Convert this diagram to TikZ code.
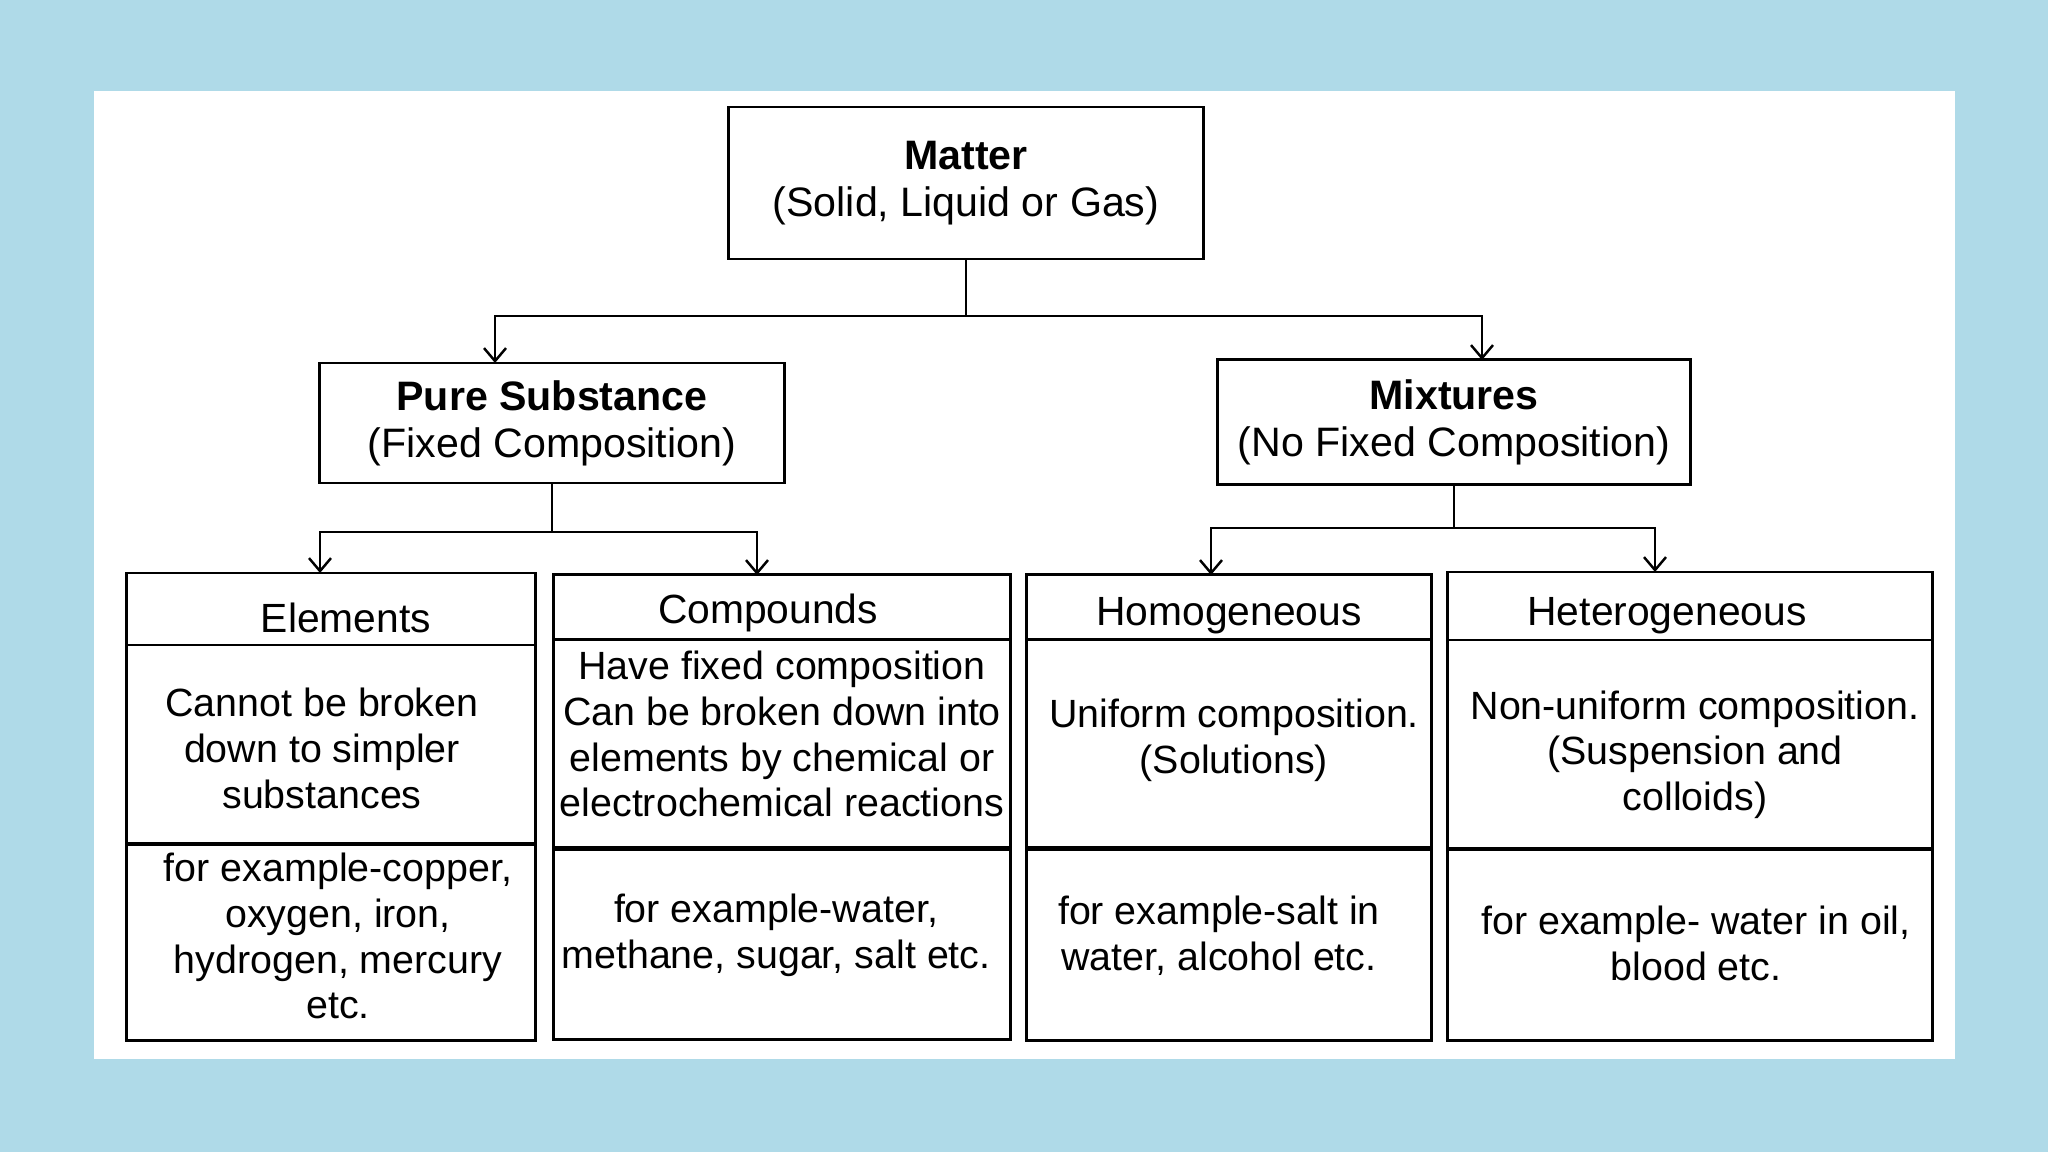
\documentclass[tikz,border=0pt]{standalone}
\usepackage{fontspec}
\setmainfont{Liberation Sans}
\usetikzlibrary{arrows.meta,positioning}
\definecolor{bgBlue}{RGB}{175,218,232}

\begin{document}
\begin{tikzpicture}[x=0.01cm,y=-0.01cm,>={Straight Barb[length=1.3mm,width=2.2mm]},
  box/.style={draw,line width=0.8pt,inner sep=0pt,outer sep=0pt,align=center},
  titlefont/.style={font=\fontsize{11.7}{13.3}\selectfont},
  headfont/.style={font=\fontsize{11.6}{13}\selectfont,align=center},
  bodyfont/.style={font=\fontsize{11.2}{13}\selectfont,align=center},
  link/.style={line width=0.7pt}]
% background and white sheet
\fill[bgBlue] (0,0) rectangle (2048,1152);
\useasboundingbox (0,0) rectangle (2048,1152);
\fill[white] (94,91) rectangle (1955,1059);
% top levels
\node[box,titlefont,minimum width=4.74cm,minimum height=1.52cm] (matter) at (966,183) {\textbf{Matter}\\(Solid, Liquid or Gas)};
\node[box,titlefont,minimum width=4.65cm,minimum height=1.2cm] (pure) at (552,423) {\textbf{Pure Substance}\\(Fixed Composition)};
\node[box,titlefont,minimum width=4.72cm,minimum height=1.25cm] (mix) at (1454,422) {\textbf{Mixtures}\\(No Fixed Composition)};
% elements
\node[box,minimum width=4.08cm,minimum height=0.72cm] (elemH) at (331,609) {};
\node[box,minimum width=4.08cm,minimum height=1.99cm,below=0pt of elemH] (elemD) {};
\node[box,minimum width=4.08cm,minimum height=1.96cm,below=0pt of elemD] (elemE) {};
\node[headfont] (elemHt) at ([shift={(15,9)}]elemH.center) {Elements};
\node[bodyfont] (elemDt) at ([shift={(-9,4)}]elemD.center) {Cannot be broken\\down to simpler\\substances};
\node[bodyfont] (elemEt) at ([shift={(7,-6)}]elemE.center) {for example-copper,\\oxygen, iron,\\hydrogen, mercury\\etc.};
% compounds
\node[box,minimum width=4.56cm,minimum height=0.65cm] (compH) at (782,607) {};
\node[box,minimum width=4.56cm,minimum height=2.09cm,below=0pt of compH] (compD) {};
\node[box,minimum width=4.56cm,minimum height=1.91cm,below=0pt of compD] (compE) {};
\node[headfont] (compHt) at ([shift={(-14,6)}]compH.center) {Compounds};
\node[bodyfont] (compDt) at ([shift={(0,-10)}]compD.center) {Have fixed composition\\Can be broken down into\\elements by chemical or\\electrochemical reactions};
\node[bodyfont] (compEt) at ([shift={(-6,-9)}]compE.center) {for example-water,\\methane, sugar, salt etc.};
% homogeneous
\node[box,minimum width=4.04cm,minimum height=0.65cm] (homoH) at (1229,607) {};
\node[box,minimum width=4.04cm,minimum height=2.09cm,below=0pt of homoH] (homoD) {};
\node[box,minimum width=4.04cm,minimum height=1.92cm,below=0pt of homoD] (homoE) {};
\node[headfont] (homoHt) at ([shift={(0,9)}]homoH.center) {Homogeneous};
\node[bodyfont] (homoDt) at ([shift={(5,-4)}]homoD.center) {Uniform composition.\\(Solutions)};
\node[bodyfont] (homoEt) at ([shift={(-10,-9)}]homoE.center) {for example-salt in\\water, alcohol etc.};
% heterogeneous
\node[box,minimum width=4.84cm,minimum height=0.68cm] (hetH) at (1690,606) {};
\node[box,minimum width=4.84cm,minimum height=2.09cm,below=0pt of hetH] (hetD) {};
\node[box,minimum width=4.84cm,minimum height=1.91cm,below=0pt of hetD] (hetE) {};
\node[headfont] (hetHt) at ([shift={(-23,10)}]hetH.center) {Heterogeneous};
\node[bodyfont] (hetDt) at ([shift={(5,10)}]hetD.center) {Non-uniform composition.\\(Suspension and\\colloids)};
\node[bodyfont] (hetEt) at ([shift={(6,-1)}]hetE.center) {for example- water in oil,\\blood etc.};
% heavier rule between description and examples
\foreach \c in {elemD,compD,homoD,hetD}
  \draw[line width=1.3pt] (\c.south west) -- (\c.south east);
% connectors
\coordinate (mBar) at (966,316);
\coordinate (toPure) at (495,363);
\coordinate (toMix) at (1482,360);
\draw[link] (matter.south) -- (mBar);
\draw[link,->] (mBar) -| (toPure);
\draw[link,->] (mBar) -| (toMix);
\coordinate (pBar) at (552,532);
\coordinate (toElem) at (320,573);
\coordinate (toComp) at (757,575);
\draw[link] (pure.south) -- (pBar);
\draw[link,->] (pBar) -| (toElem);
\draw[link,->] (pBar) -| (toComp);
\coordinate (xBar) at (1454,528);
\coordinate (toHomo) at (1211,575);
\coordinate (toHet) at (1655,572);
\draw[link] (mix.south) -- (xBar);
\draw[link,->] (xBar) -| (toHomo);
\draw[link,->] (xBar) -| (toHet);
\end{tikzpicture}
\end{document}
